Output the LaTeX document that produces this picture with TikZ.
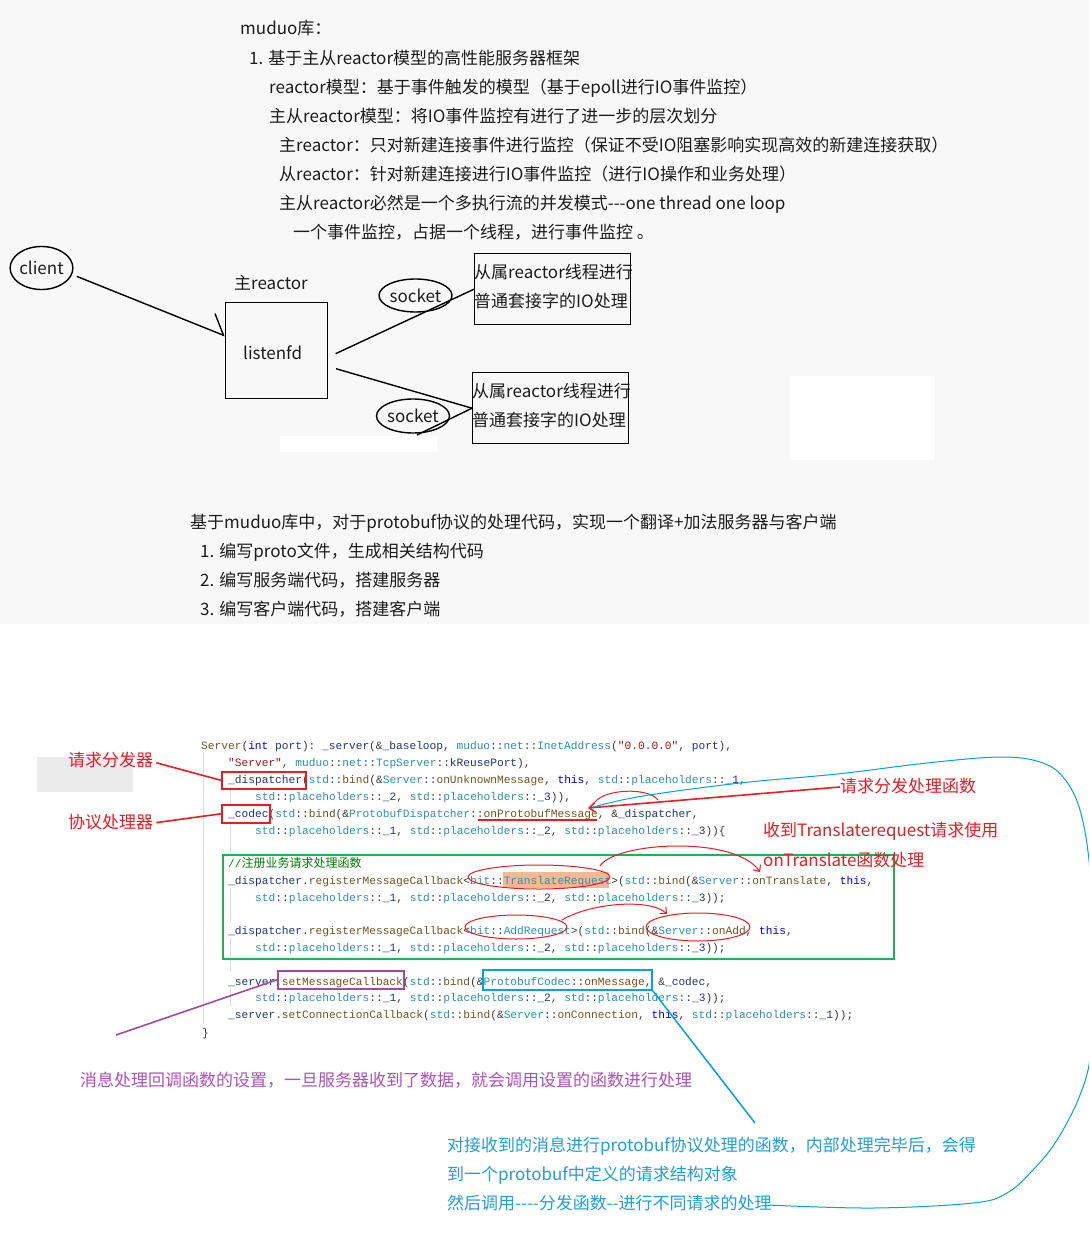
\documentclass[tikz,border=0pt]{standalone}
\usepackage{fontspec}
\setmainfont{Noto Sans CJK SC}
\setmonofont{Liberation Mono}
\newfontfamily\cjk{Noto Sans CJK SC}
\usetikzlibrary{arrows.meta,shapes.geometric}
\definecolor{pred}{HTML}{ED1C24}
\definecolor{pblue}{HTML}{00A2E8}
\definecolor{pbluet}{HTML}{1E9FE0}
\definecolor{pgreen}{HTML}{22B14C}
\definecolor{ppurple}{HTML}{A349A4}
\definecolor{ppurplet}{HTML}{B050BE}
\definecolor{inkc}{HTML}{1C1C1C}
\definecolor{topbg}{HTML}{F8F8F8}
\definecolor{patch}{HTML}{ECECEC}
\definecolor{ctype}{HTML}{2B91AF}
\definecolor{cfun}{HTML}{74531F}
\definecolor{cvar}{HTML}{1F377F}
\definecolor{ckw}{HTML}{0000FF}
\definecolor{cstr}{HTML}{A31515}
\definecolor{ccom}{HTML}{008000}
\definecolor{cdef}{HTML}{3C3C3C}
\definecolor{guide}{HTML}{DCDCDC}
\definecolor{hilite}{HTML}{F4B894}
\newcommand\cTy[1]{\textcolor{ctype}{#1}}
\newcommand\cFn[1]{\textcolor{cfun}{#1}}
\newcommand\cVa[1]{\textcolor{cvar}{#1}}
\newcommand\cKw[1]{\textcolor{ckw}{#1}}
\newcommand\cSt[1]{\textcolor{cstr}{#1}}
\newcommand\cPh[1]{\cTy{std}::\cTy{placeholders}::\cVa{\_#1}}
\begin{document}
\begin{tikzpicture}[x=1pt,y=-1pt,
  every node/.style={inner sep=0pt},
  tx/.style={font=\fontsize{17}{20}\selectfont, anchor=base west, text=inkc},
  redtx/.style={font=\fontsize{17}{20}\selectfont, anchor=base west, text=pred},
  bluetx/.style={font=\fontsize{17}{20}\selectfont, anchor=base west, text=pbluet},
  purptx/.style={font=\fontsize{17}{20}\selectfont, anchor=base west, text=ppurplet},
  code/.style={font=\ttfamily\fontsize{11.2}{13}\selectfont, anchor=base west, text=cdef},
  blk/.style={draw=black, line width=1.4pt},
  shapebox/.style={draw=black, line width=1.4pt, anchor=north west},
  redbox/.style={draw=pred, line width=1.6pt, anchor=north west},
  hand/.style={line width=1pt, line cap=round, line join=round}]
\useasboundingbox (0,0) rectangle (1089,1233);
\clip (0,0) rectangle (1089,1233);
% backgrounds
\fill[white] (0,0) rectangle (1089,1233);
\fill[topbg] (0,0) rectangle (1089,624);
\fill[white] (790,376) rectangle (935,460);
\fill[white] (280,436) rectangle (437,452);
\fill[patch] (37,757) rectangle (133,792);

% ---------- top text ----------
\node[tx] (t1) at (240,34.5) {muduo库：};
\node[tx] (t2) at (249,64.5) {1. 基于主从reactor模型的高性能服务器框架};
\node[tx] (t3) at (269,93.5) {reactor模型：基于事件触发的模型（基于epoll进行IO事件监控）};
\node[tx] (t4) at (269,122.5) {主从reactor模型：将IO事件监控有进行了进一步的层次划分};
\node[tx] (t5) at (279,151.5) {主reactor：只对新建连接事件进行监控（保证不受IO阻塞影响实现高效的新建连接获取）};
\node[tx] (t6) at (279,180.5) {从reactor：针对新建连接进行IO事件监控（进行IO操作和业务处理）};
\node[tx] (t7) at (279,209.5) {主从reactor必然是一个多执行流的并发模式-{}-{}-one thread one loop};
\node[tx] (t8) at (293,238.5) {一个事件监控，占据一个线程，进行事件监控 。};

% ---------- reactor diagram ----------
\node[draw=black, line width=1.4pt, ellipse, minimum width=61, minimum height=43, font=\fontsize{17}{20}\selectfont, text=inkc] (client) at (41.5,268) {client};
\node[font=\fontsize{17}{20}\selectfont, text=inkc] (mainr) at (271,283) {主reactor};
\node[shapebox, minimum width=102, minimum height=96] (lfd) at (225,302) {};
\node[tx] (lfdt) at (243,359.5) {listenfd};
\node[shapebox, minimum width=156, minimum height=71] (w1) at (474,253) {};
\node[tx] (w1a) at (474,278.5) {从属reactor线程进行};
\node[tx] (w1b) at (474,307.5) {普通套接字的IO处理};
\node[shapebox, minimum width=156, minimum height=71] (w2) at (472,372) {};
\node[tx] (w2a) at (472,397.5) {从属reactor线程进行};
\node[tx] (w2b) at (472,426.5) {普通套接字的IO处理};
\node[draw=black, line width=1.4pt, ellipse, minimum width=67, minimum height=33, font=\fontsize{17}{20}\selectfont, text=inkc] (s1) at (415.5,295.5) {socket};
\node[draw=black, line width=1.4pt, ellipse, minimum width=68, minimum height=34, font=\fontsize{17}{20}\selectfont, text=inkc] (s2) at (413,416) {socket};
\coordinate (s2tail) at (417,435);
\draw[blk, shorten <=5pt, -{Straight Barb[left,length=16pt,width=34pt,line width=1.4pt]}] (client.-12) -- (lfd.164);
\draw[blk, shorten <=8pt] (lfd.-7) -- (w1.west);
\draw[blk, shorten <=8pt] (lfd.-17) -- (w2.west);
\draw[blk] (s2tail) -- (w2.west);

% ---------- bottom text ----------
\node[tx] (b1) at (190,528.5) {基于muduo库中，对于protobuf协议的处理代码，实现一个翻译+加法服务器与客户端};
\node[tx] (b2) at (200,557.5) {1. 编写proto文件，生成相关结构代码};
\node[tx] (b3) at (200,586.5) {2. 编写服务端代码，搭建服务器};
\node[tx] (b4) at (200,615.5) {3. 编写客户端代码，搭建客户端};

% ---------- code ----------
\draw[guide, line width=0.8pt] (203,752) -- (203,1024);
\foreach \ya/\yb in {787/806, 821/854, 887/922, 938/972, 988/1006}
  \draw[guide, line width=0.8pt] (230,\ya) -- (230,\yb);
\fill[hilite] (503,872) rectangle (609,888);
\node[code] (c1) at (201,749) {\cFn{Server}(\cKw{int} \cVa{port}): \cVa{\_server}(\&\cVa{\_baseloop}, \cTy{muduo}::\cTy{net}::\cTy{InetAddress}(\cSt{"0.0.0.0"}, \cVa{port}),};
\node[code] (c2) at (228,766) {\cSt{"Server"}, \cTy{muduo}::\cTy{net}::\cTy{TcpServer}::\cVa{kReusePort}),};
\node[code] (c3) at (228,783) {\cVa{\_dispatcher}(\cTy{std}::\cFn{bind}(\&\cTy{Server}::\cFn{onUnknownMessage}, \cKw{this}, \cPh{1},};
\node[code] (c4) at (255,800) {\cPh{2}, \cPh{3})),};
\node[code] (c5) at (228,817) {\cVa{\_codec}(\cTy{std}::\cFn{bind}(\&\cTy{ProtobufDispatcher}::\cFn{onProtobufMessage}, \&\cVa{\_dispatcher},};
\node[code] (c6) at (255,834) {\cPh{1}, \cPh{2}, \cPh{3}))\{};
\node[code, text=ccom] (c7) at (228,867) {//{\cjk\fontsize{12}{13}\selectfont 注册业务请求处理函数}};
\node[code] (c8) at (228,884) {\cVa{\_dispatcher}.\cFn{registerMessageCallback}<\cTy{bit}::\cTy{TranslateRequest}>(\cTy{std}::\cFn{bind}(\&\cTy{Server}::\cFn{onTranslate}, \cKw{this},};
\node[code] (c9) at (255,901) {\cPh{1}, \cPh{2}, \cPh{3}));};
\node[code] (c10) at (228,934) {\cVa{\_dispatcher}.\cFn{registerMessageCallback}<\cTy{bit}::\cTy{AddRequest}>(\cTy{std}::\cFn{bind}(\&\cTy{Server}::\cFn{onAdd}, \cKw{this},};
\node[code] (c11) at (255,951) {\cPh{1}, \cPh{2}, \cPh{3}));};
\node[code] (c12) at (228,985) {\cVa{\_server}.\cFn{setMessageCallback}(\cTy{std}::\cFn{bind}(\&\cTy{ProtobufCodec}::\cFn{onMessage}, \&\cVa{\_codec},};
\node[code] (c13) at (255,1001) {\cPh{1}, \cPh{2}, \cPh{3}));};
\node[code] (c14) at (228,1018) {\cVa{\_server}.\cFn{setConnectionCallback}(\cTy{std}::\cFn{bind}(\&\cTy{Server}::\cFn{onConnection}, \cKw{this}, \cPh{1}));};
\node[code] (c15) at (202,1036) {\}};

% ---------- annotations ----------
\node[redbox, minimum width=84, minimum height=17] (rd1) at (221,771) {};
\node[redbox, minimum width=48, minimum height=18] (rd2) at (221,804) {};
\node[draw=pgreen, line width=1.6pt, anchor=north west, minimum width=671, minimum height=104] (gbox) at (222,854) {};
\node[draw=ppurple, line width=1.6pt, anchor=north west, minimum width=126, minimum height=18] (pbox) at (277,970) {};
\node[draw=pblue, line width=1.6pt, anchor=north west, minimum width=169, minimum height=20] (bbox) at (482,969) {};

\node[redtx] (lab1) at (68,766.5) {请求分发器};
\node[redtx] (lab2) at (68,828.5) {协议处理器};
\node[redtx] (lab3) at (840,792.5) {请求分发处理函数};
\node[redtx] (lab4) at (763,836.5) {收到Translaterequest请求使用};
\node[redtx] (lab5) at (763,866.5) {onTranslate函数处理};
\node[purptx] (ptxt) at (80,1086.5) {消息处理回调函数的设置，一旦服务器收到了数据，就会调用设置的函数进行处理};
\node[bluetx] (bt1) at (447,1151.5) {对接收到的消息进行protobuf协议处理的函数，内部处理完毕后，会得};
\node[bluetx] (bt2) at (447,1180.5) {到一个protobuf中定义的请求结构对象};
\node[bluetx] (bt3) at (447,1209.5) {然后调用-{}-{}-{}-分发函数-{}-进行不同请求的处理};

\draw[pred, line width=1.6pt, shorten <=3pt] (lab1.east |- 0,762) -- (rd1.west);
\draw[pred, line width=1.6pt, shorten <=3pt] (lab2.east |- 0,823) -- (rd2.west);

\coordinate (tip1) at (588,808);
\draw[pred, line width=1.6pt, -{Straight Barb[length=6pt,width=10pt]}] (lab3.west |- 0,787) -- (tip1);
\draw[pred, hand] (595,802) .. controls (605,789) and (648,787) .. (658,800);
\draw[pred, line width=1.2pt] (478,820) -- (597,820);

% hand-drawn red ellipses and arcs
\draw[pred, hand] (539,877) ellipse [x radius=71pt, y radius=12pt];
\draw[pred, hand] (516,927) ellipse [x radius=51pt, y radius=12pt];
\draw[pred, hand] (698,927) ellipse [x radius=52pt, y radius=14pt];
\draw[pred, hand, -{Straight Barb[length=5pt,width=9pt]}] (600,866) .. controls (615,842) and (735,835) .. (760,872);
\draw[pred, hand, -{Straight Barb[length=5pt,width=9pt]}] (562,920) .. controls (590,903) and (650,898) .. (667,914);

% purple and blue connectors
\coordinate (pend) at (116,1035);
\draw[ppurple, line width=1.6pt] (pend) -- (pbox.west);
\coordinate (bend) at (755,1123);
\draw[pblue, line width=1.5pt] (bbox.south east) -- (bend);
\draw[pblue, hand] plot[smooth, tension=0.6] coordinates {(593,807) (643,796) (740,783) (837,774) (927,763) (1000,757) (1040,762) (1063,777) (1080,810) (1090,870) (1094,960) (1091,1050) (1080,1095) (1057,1140) (1033,1170) (1007,1193) (973,1203) (873,1208) (768,1205)};
\end{tikzpicture}
\end{document}
